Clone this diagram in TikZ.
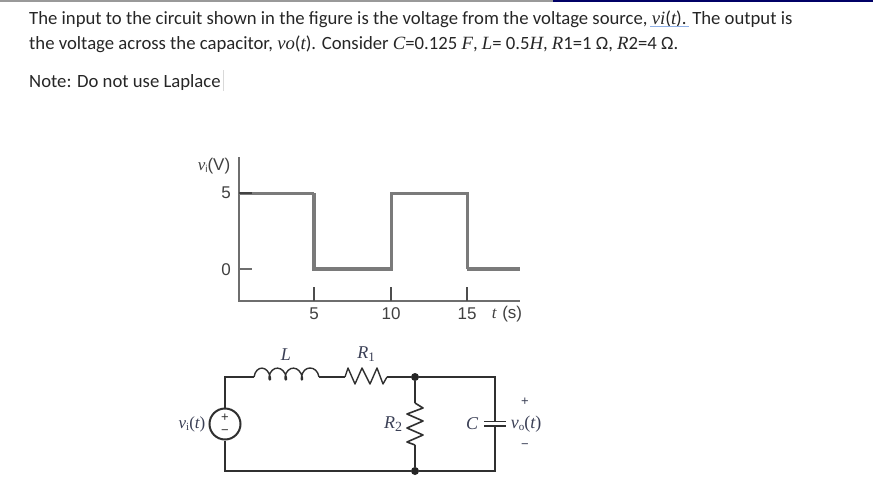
\documentclass[tikz,border=0pt]{standalone}
\usepackage{fontspec}
\setmainfont{Carlito}
\newfontfamily\mfont{Liberation Serif}
\newfontfamily\plotf{Liberation Sans}
\newfontfamily\circf{Liberation Serif}
\definecolor{txt}{HTML}{262626}
\definecolor{axisc}{HTML}{6E6E6E}
\definecolor{wavec}{HTML}{7A7A7A}
\definecolor{wire}{HTML}{303030}
\definecolor{lab}{HTML}{3A3F55}
\definecolor{squig}{HTML}{8FB0E6}
\newcommand{\mi}[1]{{\mfont\itshape #1}}
\newcommand{\ci}[1]{{\circf\itshape #1}}
\tikzset{
 para/.style={anchor=base west,inner sep=0pt,text=txt,font=\fontsize{18.7}{20}\selectfont},
 axisline/.style={draw=axisc,line width=1.5pt},
 wave/.style={draw=wavec,line width=3pt,line join=miter},
 wavethick/.style={draw=wavec,line width=4.6pt},
 plotlab/.style={inner sep=0pt,text=black!75,font=\plotf\fontsize{17}{19}\selectfont},
 circlab/.style={inner sep=0pt,text=lab,font=\circf\fontsize{18}{20}\selectfont},
 wireline/.style={draw=wire,line width=2pt},
 junction/.style={circle,fill=black!85,inner sep=0pt,minimum size=8pt},
 source/.style={circle,draw=wire,line width=2pt,minimum size=31pt,inner sep=0pt},
}
\begin{document}
\begin{tikzpicture}[x=1pt,y=-1pt]
\useasboundingbox (0,0) rectangle (873,479);
% window strip
\fill[black!40] (0,0) rectangle (553,1.5);
\fill[blue!40!black] (553,0) rectangle (873,1.5);
% text
\node[para] (l1) at (29,24) {The input to the circuit shown in the figure is the voltage from the voltage source, \mi{vi}(\mi{t}). The output is};
\node[para] (l2) at (29,49) {the voltage across the capacitor, \mi{vo}(\mi{t}). Consider \mi{C}=0.125 \mi{F}, \mi{L}= 0.5\mi{H}, \mi{R}1=1 Ω, \mi{R}2=4 Ω.};
\node[para] (l3) at (29,87) {Note: Do not use Laplace};
\draw[black!15,line width=.7pt] (223,70) -- (223,91);
\draw[squig,line width=1.8pt] (650,26.5) -- (689,26.5);
% plot
\coordinate (otop) at (239,157);
\coordinate (o) at (239,301);
\coordinate (xend) at (520,301);
\draw[axisline] (otop) -- (o) -- (xend);
\coordinate (y5) at (239,193);
\coordinate (y0) at (239,269);
\coordinate (y5e) at (252,193);
\coordinate (y0e) at (252,269);
\coordinate (a1) at (314,193); \coordinate (a2) at (314,269);
\coordinate (a3) at (391,269); \coordinate (a4) at (391,193);
\coordinate (a5) at (467,193); \coordinate (a6) at (467,269);
\coordinate (a7) at (520,269);
\draw[wave] (y5) -- (a1);
\draw[wavethick] (a1) -- (a2);
\draw[wavethick,line cap=rect] (a2) -- (a3);
\draw[wave] (a3) -- (a4) -- (a5) -- (a6);
\draw[wavethick] (a6) -- (a7);
\draw[axisc!60!black,line width=1.2pt] (y5) -- (y5e);
\draw[axisc,line width=1.2pt] (y0) -- (y0e);
\foreach \xx in {314,391,467}
  \draw[axisc!70!black,line width=1.2pt] (\xx,287) -- (\xx,301);
\node[plotlab] (t5) at (314,314) {5};
\node[plotlab] (t10) at (391,314) {10};
\node[plotlab] (t15) at (467,314) {15};
\node[plotlab] (ts) at (507,314) {{\circf\itshape t}\,\,(s)};
\node[plotlab] (l5) at (226,193) {5};
\node[plotlab] (l0) at (226,270) {0};
\node[plotlab] (yl) at (214,166) {\ci{v}\raisebox{-2pt}{\fontsize{10}{10}\selectfont i}(V)};
% circuit
\node[source] (vs) at (225,424) {};
\node[inner sep=0pt,text=wire,font=\plotf\fontsize{13}{13}\selectfont] (vp) at (225,418) {+};
\node[inner sep=0pt,text=wire,font=\plotf\fontsize{13}{13}\selectfont] (vm) at (225,432) {\textminus};
\coordinate (tl) at (225,377);
\coordinate (bl) at (225,471);
\coordinate (ls) at (254,377);
\coordinate (le) at (319,377);
\coordinate (rs) at (345,377);
\coordinate (re) at (387,377);
\node[junction] (nt) at (415,377) {};
\node[junction] (nb) at (415,471) {};
\coordinate (tr) at (495,377);
\coordinate (br) at (495,471);
\coordinate (r2s) at (415,403);
\coordinate (r2e) at (415,445);
\coordinate (cu) at (495,421.5);
\coordinate (cl) at (495,426);
\draw[wireline] (vs) -- (tl) -- (ls);
\draw[wireline] (vs) -- (bl) -- (nb);
\draw[wireline] (le) -- (rs);
\draw[wireline] (re) -- (nt);
\draw[wireline] (nt) -- (r2s);
\draw[wireline] (r2e) -- (nb);
\draw[wireline] (nt) -- (tr) -- (cu);
\draw[wireline] (nb) -- (br) -- (cl);
% inductor
\draw[wireline,line width=1.4pt] (ls)
  .. controls (256,365) and (268,365) .. (270.5,378)
  .. controls (271,380.5) and (268.5,380.5) .. (269,377)
  .. controls (271,365) and (284,365) .. (286.5,378)
  .. controls (287,380.5) and (284.5,380.5) .. (285,377)
  .. controls (287,365) and (300,365) .. (302.5,378)
  .. controls (303,380.5) and (300.5,380.5) .. (301.5,377)
  .. controls (303,365) and (317,365) .. (le);
% R1
\draw[wireline,line width=1.4pt,line join=round] (rs) -- (348,368) -- (355,384) -- (362,368) -- (370,384) -- (377,368) -- (383,384) -- (re);
% R2
\draw[wireline,line width=1.6pt,line join=round] (r2s) -- (423,408) -- (407,414) -- (423,421) -- (407,428) -- (423,435) -- (407,442) -- (r2e);
% capacitor
\draw[wireline,line width=1.4pt] (484,421.5) -- (506,421.5);
\draw[wireline,line width=1.4pt] (484,426) -- (506,426);
% labels
\node[circlab] (lL) at (286,355) {\itshape L};
\node[circlab] (lR1) at (366,354) {\itshape R\raisebox{-2.5pt}{\fontsize{13}{13}\selectfont\upshape 1}};
\node[circlab] (lR2) at (393,424) {\itshape R\raisebox{-2.5pt}{\fontsize{14}{14}\selectfont\upshape 2}};
\node[circlab] (lC) at (472,424) {\itshape C};
\node[circlab,font=\circf\fontsize{17}{19}\selectfont] (lvi) at (192,424) {\itshape v\raisebox{-2.5pt}{\fontsize{11}{11}\selectfont\upshape i}\upshape(\itshape t\upshape)};
\node[circlab] (lvo) at (526,424) {\itshape v\raisebox{-2.5pt}{\fontsize{11}{11}\selectfont\upshape o}\upshape(\itshape t\upshape)};
\node[circlab,font=\plotf\fontsize{13}{13}\selectfont] (lp) at (525,402) {+};
\node[circlab,font=\plotf\fontsize{13}{13}\selectfont] (lm) at (525,446) {\textminus};
\end{tikzpicture}
\end{document}
